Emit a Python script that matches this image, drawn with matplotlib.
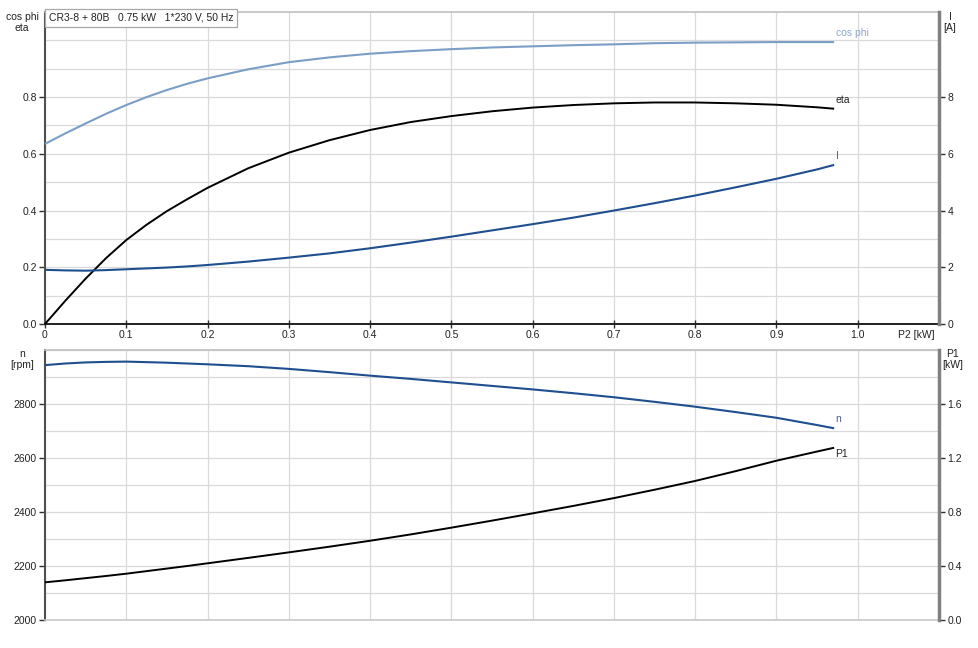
import matplotlib
matplotlib.use("Agg")
import matplotlib.pyplot as plt
from matplotlib.ticker import MultipleLocator, FixedLocator, FuncFormatter

plt.rcParams['font.family'] = ['Liberation Sans', 'DejaVu Sans']
plt.rcParams['font.size'] = 7.5

# ---- data ----
p2 = [0, 0.025, 0.05, 0.075, 0.1, 0.125, 0.15, 0.175, 0.2, 0.25, 0.3, 0.35, 0.4,
      0.45, 0.5, 0.55, 0.6, 0.65, 0.7, 0.75, 0.8, 0.85, 0.9, 0.95, 0.971]
cos_phi = [0.635, 0.672, 0.707, 0.741, 0.772, 0.800, 0.825, 0.847, 0.866, 0.898,
           0.923, 0.940, 0.953, 0.962, 0.969, 0.975, 0.979, 0.983, 0.986, 0.990,
           0.992, 0.993, 0.994, 0.994, 0.994]
eta = [0.0, 0.082, 0.160, 0.232, 0.296, 0.350, 0.398, 0.440, 0.480, 0.549, 0.604,
       0.648, 0.684, 0.712, 0.733, 0.750, 0.763, 0.772, 0.778, 0.781, 0.781, 0.778,
       0.773, 0.764, 0.759]
current = [1.91, 1.89, 1.88, 1.90, 1.93, 1.96, 1.99, 2.03, 2.08, 2.20, 2.34, 2.49,
           2.67, 2.87, 3.08, 3.30, 3.52, 3.75, 4.00, 4.26, 4.53, 4.82, 5.12, 5.45, 5.61]
speed = [2944, 2950, 2954, 2956, 2957, 2955, 2953, 2950, 2947, 2940, 2930, 2918,
         2905, 2893, 2880, 2867, 2854, 2840, 2825, 2808, 2790, 2770, 2749, 2722, 2710]
p1 = [0.279, 0.294, 0.310, 0.326, 0.343, 0.362, 0.381, 0.400, 0.420, 0.460, 0.501,
      0.543, 0.587, 0.634, 0.684, 0.736, 0.790, 0.845, 0.903, 0.965, 1.030, 1.103,
      1.180, 1.248, 1.276]

x_ticks = [0, 0.1, 0.2, 0.3, 0.4, 0.5, 0.6, 0.7, 0.8, 0.9, 1.0]
x_tick_labels = ["0", "0.1", "0.2", "0.3", "0.4", "0.5", "0.6", "0.7", "0.8", "0.9", "1.0"]
top_left_ticks = [0.0, 0.2, 0.4, 0.6, 0.8]
top_right_ticks = [0, 2, 4, 6, 8]
bot_left_ticks = [2000, 2200, 2400, 2600, 2800]
bot_right_ticks = [0.0, 0.4, 0.8, 1.2, 1.6]
title = "CR3-8 + 80B   0.75 kW   1*230 V, 50 Hz"

LIGHT = '#7b9ec6'
DARK = '#1f4f8f'
GRID = '#dadada'
W, H = 979, 648

fig = plt.figure(figsize=(W / 100, H / 100), dpi=100)

def rect(l, t, r, b):
    return [l / W, 1 - b / H, (r - l) / W, (b - t) / H]

def style(ax, axr, bottom_black):
    ax.set_xlim(0, 1.1)
    ax.xaxis.set_major_locator(FixedLocator(x_ticks))
    ax.grid(True, which='both', color=GRID, lw=0.9)
    ax.set_axisbelow(True)
    ax.spines['top'].set_color('#c0c0c0')
    ax.spines['top'].set_linewidth(1.2)
    ax.spines['right'].set_visible(False)
    ax.spines['left'].set_color('#505050')
    ax.spines['left'].set_linewidth(1.5)
    if bottom_black:
        ax.spines['bottom'].set_color('#202020')
        ax.spines['bottom'].set_linewidth(1.4)
    else:
        ax.spines['bottom'].set_color('#c8c8c8')
        ax.spines['bottom'].set_linewidth(1.2)
    ax.tick_params(axis='y', which='major', direction='out', length=4, width=1,
                   color='#303030', pad=2, labelsize=7.5, labelcolor='#222222')
    ax.tick_params(axis='y', which='minor', length=0)
    for s in ['top', 'left', 'bottom']:
        axr.spines[s].set_visible(False)
    axr.spines['right'].set_color('#808080')
    axr.spines['right'].set_linewidth(2.5)
    axr.tick_params(axis='y', direction='out', length=4, width=1, color='#303030',
                    pad=2, labelsize=7.5, labelcolor='#222222')

LINE_KW = dict(zorder=3, clip_on=False, solid_joinstyle='round', solid_capstyle='butt')

# ---- top panel ----
ax1 = fig.add_axes(rect(45, 12, 939, 324))
ax1r = ax1.twinx()
style(ax1, ax1r, True)
ax1.set_ylim(0, 1.1)
ax1.yaxis.set_major_locator(FixedLocator(top_left_ticks))
ax1.yaxis.set_minor_locator(FixedLocator([0.1, 0.3, 0.5, 0.7, 0.9, 1.0]))
ax1.yaxis.set_major_formatter(FuncFormatter(lambda v, p: f"{v:.1f}"))
ax1.set_xticklabels(x_tick_labels)
ax1.tick_params(axis='x', direction='inout', length=6, width=1, color='#303030',
                pad=1, labelsize=7.5, labelcolor='#222222')
ax1r.set_ylim(0, 11)
ax1r.yaxis.set_major_locator(FixedLocator(top_right_ticks))

ax1.plot(p2, cos_phi, color=LIGHT, lw=1.5, **LINE_KW)
ax1.plot(p2, eta, color='black', lw=1.4, **LINE_KW)
ax1r.plot(p2, current, color=DARK, lw=1.5, **LINE_KW)

ax1.annotate("cos phi", (p2[-1], cos_phi[-1]), xytext=(1, 3), textcoords='offset points',
             color='#8aa6c8', fontsize=7.5, va='bottom', ha='left')
ax1.annotate("eta", (p2[-1], eta[-1]), xytext=(1, 3), textcoords='offset points',
             color='#222222', fontsize=7.5, va='bottom', ha='left')
ax1r.annotate("I", (p2[-1], current[-1]), xytext=(1, 3), textcoords='offset points',
              color='#4a5f8a', fontsize=7.5, va='bottom', ha='left')

ax1.text(1.095, -0.022, "P2 [kW]", transform=ax1.transData, ha='right', va='top',
         fontsize=7.5, color='#222222', clip_on=False)

# title box
ax1.text(0.004, 0.997, title, transform=ax1.transAxes, ha='left', va='top',
         fontsize=7.5, color='#222222', zorder=5,
         bbox=dict(boxstyle='square,pad=0.35', fc='white', ec='#a8a8a8', lw=0.9))

fig.text(22 / W, 1 - 12 / H, "cos phi\neta", ha='center', va='top', fontsize=7.5,
         color='#222222', linespacing=1.15)
fig.text(950 / W, 1 - 12 / H, "I\n[A]", ha='center', va='top', fontsize=7.5,
         color='#222222', linespacing=1.15)

# ---- bottom panel ----
ax2 = fig.add_axes(rect(45, 350, 939, 620))
ax2r = ax2.twinx()
style(ax2, ax2r, False)
ax2.set_ylim(2000, 3000)
ax2.yaxis.set_major_locator(FixedLocator(bot_left_ticks))
ax2.yaxis.set_minor_locator(MultipleLocator(100))
ax2.tick_params(axis='x', length=0, labelbottom=False)
ax2r.set_ylim(0, 2.0)
ax2r.yaxis.set_major_locator(FixedLocator(bot_right_ticks))
ax2r.yaxis.set_major_formatter(FuncFormatter(lambda v, p: f"{v:.1f}"))

ax2.plot(p2, speed, color=DARK, lw=1.5, **LINE_KW)
ax2r.plot(p2, p1, color='black', lw=1.4, **LINE_KW)

ax2.annotate("n", (p2[-1], speed[-1]), xytext=(1, 3), textcoords='offset points',
             color='#4a5f8a', fontsize=7.5, va='bottom', ha='left')
ax2r.annotate("P1", (p2[-1], p1[-1]), xytext=(1, -1), textcoords='offset points',
              color='#222222', fontsize=7.5, va='top', ha='left')

fig.text(22 / W, 1 - 349 / H, "n\n[rpm]", ha='center', va='top', fontsize=7.5,
         color='#222222', linespacing=1.15)
fig.text(953 / W, 1 - 349 / H, "P1\n[kW]", ha='center', va='top', fontsize=7.5,
         color='#222222', linespacing=1.15)

fig.savefig("out.png", dpi=100, facecolor='white')
